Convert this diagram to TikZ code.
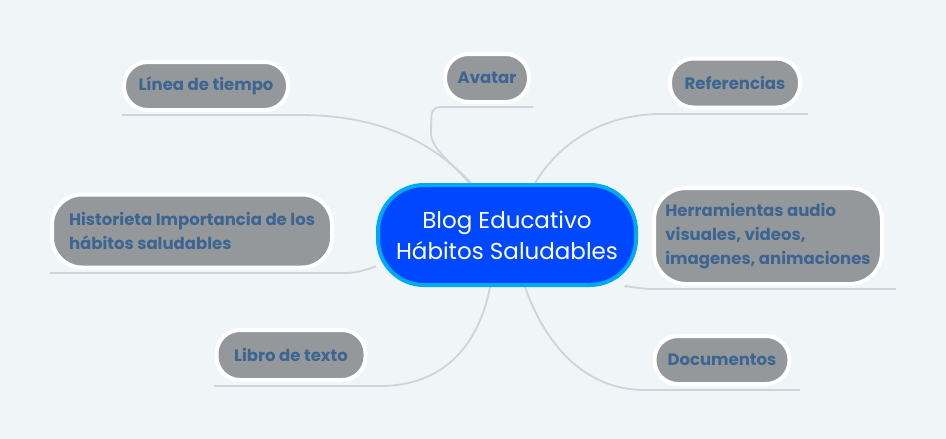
\documentclass[tikz,border=0pt]{standalone}
\usepackage{fontspec}
\setmainfont{Poppins}
\usetikzlibrary{backgrounds}
\definecolor{fondo}{HTML}{F0F5F8}
\definecolor{linea}{HTML}{CED4D9}
\definecolor{grisnodo}{HTML}{95989A}
\definecolor{textonodo}{HTML}{3C6592}
\definecolor{azul}{HTML}{0048FF}
\definecolor{celeste}{HTML}{00AAF0}
\begin{document}
\begin{tikzpicture}[x=1pt, y=-1pt,
  tema/.style={draw=celeste, line width=4pt, fill=azul, rounded corners=46pt, text=white,
    font=\fontsize{23}{31}\selectfont, align=center, inner sep=0pt},
  subtema/.style={draw=white, line width=4pt, fill=grisnodo, rounded corners=23.5pt, text=textonodo,
    font=\bfseries\fontsize{16.5}{24}\selectfont, align=left, inner sep=0pt},
  rama/.style={draw=linea, line width=1.8pt}]
\useasboundingbox (0,0) rectangle (946,439);

% El nodo central
\node[tema, minimum width=258pt, minimum height=100pt] (blog) at (507,235) {Blog Educativo\\Hábitos Saludables};

% Los nodos de cada rama
\node[subtema, minimum width=84pt, minimum height=48pt] (avatar) at (487,78) {Avatar};
\node[subtema, minimum width=164pt, minimum height=48pt] (linea) at (206,86) {Línea de tiempo};
\node[subtema, minimum width=130pt, minimum height=49pt] (refs) at (735,83) {Referencias};
\node[subtema, rounded corners=30pt, minimum width=280pt, minimum height=73pt] (historieta) at (192,231) {Historieta Importancia de los\\hábitos saludables};
\node[subtema, rounded corners=32pt, minimum width=228pt, minimum height=96pt] (herram) at (768,236) {Herramientas audio\\visuales, videos,\\imagenes, animaciones};
\node[subtema, minimum width=149pt, minimum height=50pt] (libro) at (291,355) {Libro de texto};
\node[subtema, minimum width=135pt, minimum height=48pt] (docs) at (722,360) {Documentos};

% Los extremos de las lineas bajo cada nodo
\coordinate (avatarA) at (533,107);
\coordinate (avatarB) at (432,107);
\coordinate (lineaA) at (122,115);
\coordinate (lineaB) at (300,115);
\coordinate (refsA) at (808,114);
\coordinate (refsB) at (662,114);
\coordinate (historietaA) at (50,273);
\coordinate (historietaB) at (345,273);
\coordinate (herramA) at (896,289);
\coordinate (herramB) at (655,289);
\coordinate (libroA) at (214,386);
\coordinate (libroB) at (380,386);
\coordinate (docsA) at (800,390);
\coordinate (docsB) at (645,390);

% Las ramas van por debajo de los nodos
\begin{scope}[on background layer]
\fill[fondo] (0,0) rectangle (946,439);
\draw[rama, rounded corners=8pt] (avatarA) -- (avatarB) -- (431,125) .. controls (431,150) and (455,165) .. ([xshift=-38pt]blog.north);
\draw[rama] (lineaA) -- (lineaB) .. controls (390,115) and (440,150) .. ([xshift=-36pt]blog.north);
\draw[rama] (refsA) -- (refsB) .. controls (595,114) and (555,150) .. ([xshift=28pt]blog.north);
\draw[rama] (historietaA) -- (historietaB) .. controls (360,273) and (370,268) .. (blog);
\draw[rama] (herramA) -- (herramB) .. controls (635,289) and (620,284) .. (blog);
\draw[rama] (libroA) -- (libroB) .. controls (455,386) and (482,330) .. ([xshift=-17pt]blog.south);
\draw[rama] (docsA) -- (docsB) .. controls (575,390) and (540,330) .. ([xshift=18pt]blog.south);
\end{scope}
\end{tikzpicture}
\end{document}
